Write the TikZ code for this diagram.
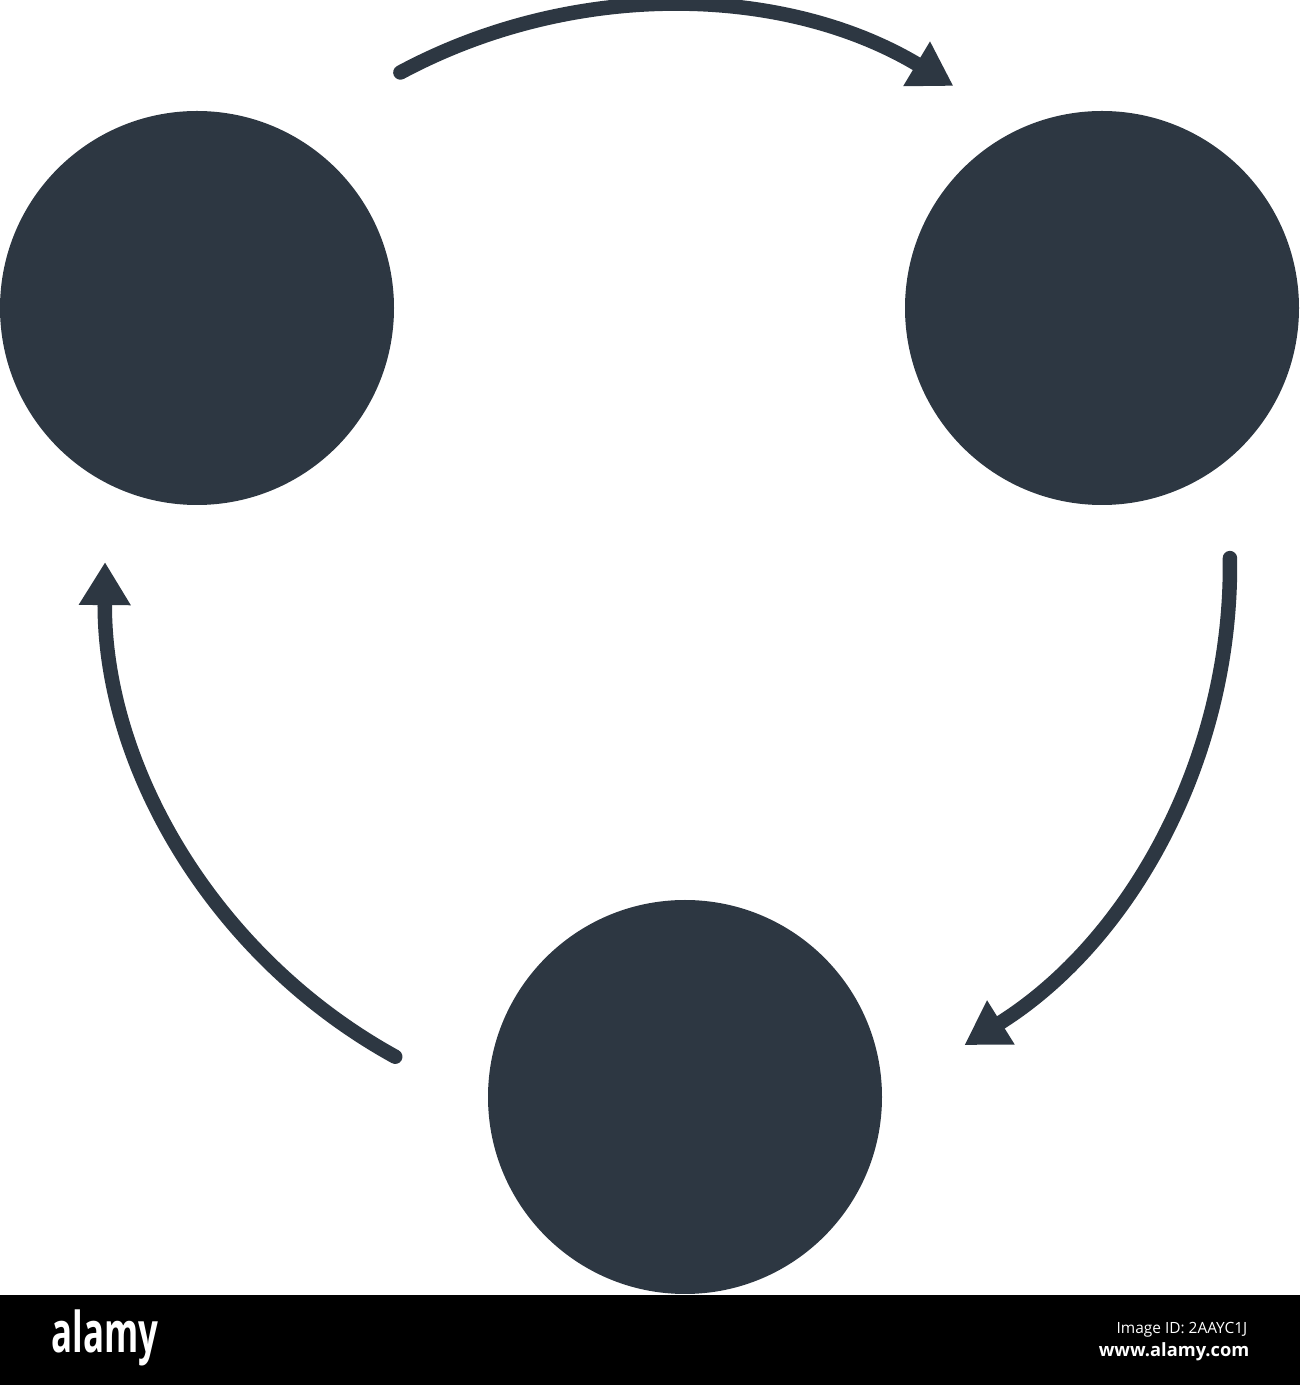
\documentclass[tikz,border=0pt]{standalone}
\usepackage{fontspec}
\setmainfont{Open Sans}
\usetikzlibrary{arrows.meta}
\usetikzlibrary{calc}

\definecolor{slate}{RGB}{45,55,66}

\begin{document}
\begin{tikzpicture}[
  blob/.style={circle,fill=slate,minimum size=3.94cm,inner sep=0pt},
  flow/.style={line width=0.145cm,draw=slate,line cap=round,-{Triangle[length=0.43cm,width=0.49cm]}},
  mark text/.style={text=white,inner sep=0pt}]
\useasboundingbox (0,0) rectangle (13,13.85);
\fill[black] (0,0) rectangle (13,0.9);
\node (left) [blob] at (1.97,10.77) {};
\node (right) [blob] at (11.02,10.77) {};
\node (bottom) [blob] at (6.85,2.88) {};
\coordinate (hub) at (6.65,8.19);
\draw[flow] ($(hub)+(118.2:5.6)$) arc[start angle=118.2,end angle=59,radius=5.6];
\draw[flow] ($(hub)+(0.8:5.65)$) arc[start angle=0.8,end angle=-58,radius=5.65];
\draw[flow] ($(hub)+(241.2:5.6)$) arc[start angle=241.2,end angle=179.6,radius=5.6];
\node (logo) [mark text,anchor=base west,font=\bfseries\fontsize{16}{17}\selectfont] at (0.51,0.32) {\scalebox{0.62}[1]{alamy}};
\node (imgid) [mark text,anchor=base east,font=\fontsize{4.4}{5}\selectfont] at (12.48,0.52) {Image ID: 2AAYC1J};
\node (site) [mark text,anchor=base east,font=\bfseries\fontsize{5.2}{6}\selectfont] at (12.5,0.29) {www.alamy.com};
\end{tikzpicture}
\end{document}
